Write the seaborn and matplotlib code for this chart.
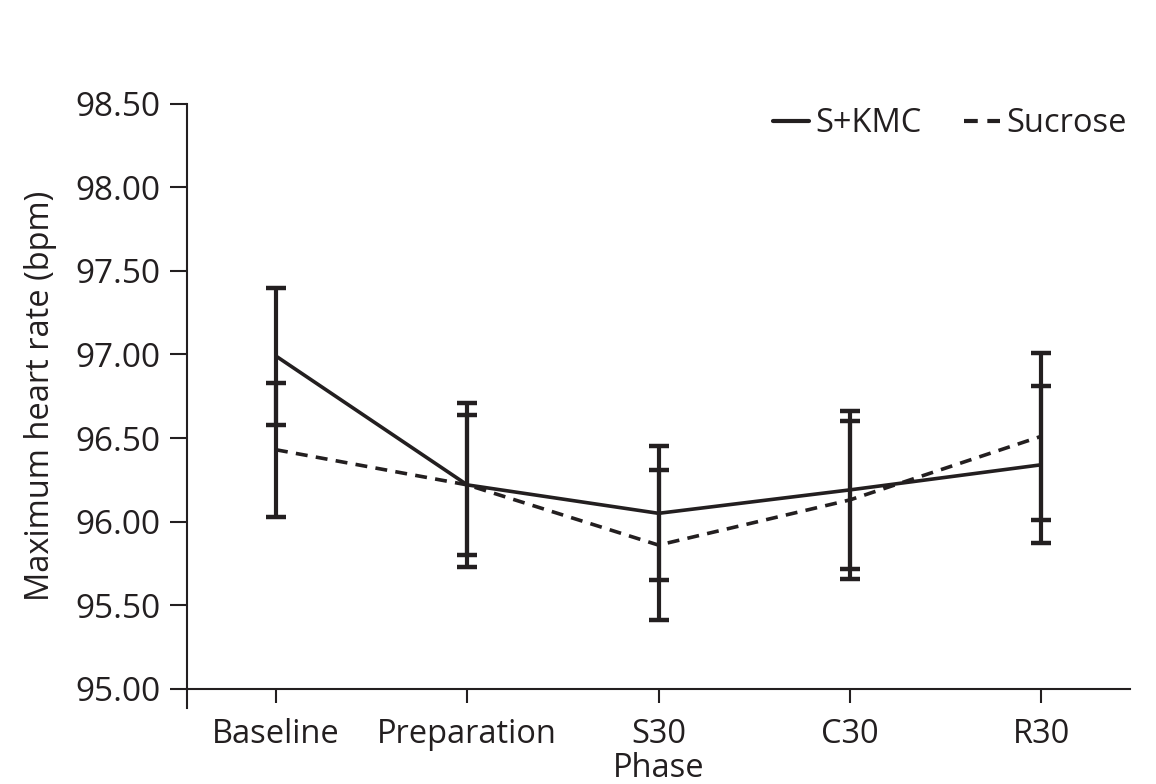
import numpy as np
import pandas as pd
import matplotlib
matplotlib.use("Agg")
import matplotlib.pyplot as plt
import seaborn as sns

# ---------- Data ----------
phases = ["Baseline", "Preparation", "S30", "C30", "R30"]
skmc_mean = [96.99, 96.22, 96.05, 96.19, 96.34]
skmc_err = [0.41, 0.49, 0.40, 0.47, 0.47]
sucrose_mean = [96.43, 96.22, 95.86, 96.13, 96.51]
sucrose_err = [0.40, 0.42, 0.45, 0.47, 0.50]
groups = ["S+KMC", "Sucrose"]
y_ticks = [95.00, 95.50, 96.00, 96.50, 97.00, 97.50, 98.00, 98.50]

INK = "#231f20"
FS = 23.5

df = pd.DataFrame({
    "phase": phases * 2,
    "hr": skmc_mean + sucrose_mean,
    "group": [groups[0]] * len(phases) + [groups[1]] * len(phases),
})

# ---------- Style ----------
sns.set_style("ticks")
plt.rcParams["font.family"] = ["Open Sans", "DejaVu Sans"]
plt.rcParams["text.color"] = INK
plt.rcParams["axes.labelcolor"] = INK
plt.rcParams["xtick.color"] = INK
plt.rcParams["ytick.color"] = INK
plt.rcParams["axes.edgecolor"] = INK

fig = plt.figure(figsize=(11.56, 7.84), dpi=100)
ax = fig.add_axes([0.1618, 0.0967, 0.8157, 0.7926])

sns.lineplot(
    data=df, x="phase", y="hr", style="group",
    dashes={groups[0]: "", groups[1]: (3.3, 2.3)},
    color=INK, linewidth=2.6, ax=ax,
)

# error bars (precomputed)
pos = np.arange(len(phases))
for mean, err in [(skmc_mean, skmc_err), (sucrose_mean, sucrose_err)]:
    ax.errorbar(pos, mean, yerr=err, fmt="none", ecolor=INK,
                elinewidth=3, capsize=7, capthick=3.2, zorder=3)

# ---------- Axes ----------
ax.set_xlim(-0.465, 4.465)
ax.set_ylim(94.885, 98.6)
ax.set_yticks(y_ticks)
ax.set_yticklabels([f"{v:.2f}" for v in y_ticks])
ax.set_xticks(pos)
ax.set_xticklabels(phases)

sns.despine(ax=ax)
ax.spines["bottom"].set_position(("data", 95.0))
ax.spines["left"].set_bounds(94.885, 98.5)
for s in ["left", "bottom"]:
    ax.spines[s].set_linewidth(1.5)

ax.tick_params(axis="y", length=12, width=1.5, pad=7, labelsize=24)
ax.tick_params(axis="x", length=10, width=1.5, pad=11, labelsize=FS)

ax.set_xlabel("Phase", fontsize=FS)
ax.set_ylabel("Maximum heart rate (bpm)", fontsize=FS)
ax.xaxis.set_label_coords(0.5, -0.071)
ax.yaxis.set_label_coords(-0.138, 0.502)

sns.move_legend(
    ax, "center right", bbox_to_anchor=(1127 / 1156, 1 - 124 / 784),
    bbox_transform=fig.transFigure, title=None, ncol=2, frameon=False,
    fontsize=FS, handlelength=1.1, handletextpad=0.2, columnspacing=1.3,
    borderpad=0, borderaxespad=0,
)
for line in ax.get_legend().get_lines():
    line.set_linewidth(3)

fig.savefig("out.png", dpi=100)
